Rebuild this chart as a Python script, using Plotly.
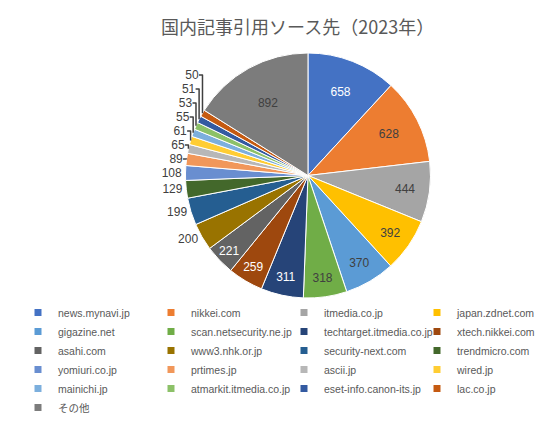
import plotly.graph_objects as go

# source sites and citation counts (2023)
sites = ["news.mynavi.jp", "nikkei.com", "itmedia.co.jp", "japan.zdnet.com",
         "gigazine.net", "scan.netsecurity.ne.jp", "techtarget.itmedia.co.jp", "xtech.nikkei.com",
         "asahi.com", "www3.nhk.or.jp", "security-next.com", "trendmicro.com",
         "yomiuri.co.jp", "prtimes.jp", "ascii.jp", "wired.jp",
         "mainichi.jp", "atmarkit.itmedia.co.jp", "eset-info.canon-its.jp", "lac.co.jp",
         "その他"]
counts = [658, 628, 444, 392, 370, 318, 311, 259, 221, 200, 199, 129,
          108, 89, 65, 61, 55, 53, 51, 50, 892]

# office palette
colors = ["#4472C4", "#ED7D31", "#A5A5A5", "#FFC000", "#5B9BD5", "#70AD47",
          "#264478", "#9E480E", "#636363", "#997300", "#255E91", "#43682B",
          "#698ED0", "#F1975A", "#B7B7B7", "#FFCD33", "#7CAFDD", "#8CC168",
          "#335AA1", "#C55A11", "#7C7C7C"]

dark_text = "#404040"
text_colors = ["white", dark_text, dark_text, dark_text, dark_text, dark_text,
               "white", "white", "white"] + [dark_text] * 11 + [dark_text]
positions = ["inside"] * 9 + ["outside"] * 11 + ["inside"]

fig = go.Figure(go.Pie(
    labels=sites, values=counts, sort=False, direction="clockwise", rotation=0,
    marker=dict(colors=colors, line=dict(color="white", width=1)),
    textinfo="value", textposition=positions,
    insidetextorientation="horizontal",
    textfont=dict(size=12, color=text_colors, family="Liberation Sans, sans-serif"),
    outsidetextfont=dict(size=12, color=dark_text),
    domain=dict(x=[0.19, 0.89], y=[0.0, 1.0]),
    showlegend=False,
))

# legend entries with small square swatches
for name, col in zip(sites, colors):
    fig.add_trace(go.Scatter(x=[None], y=[None], mode="markers", name=name,
                             marker=dict(symbol="square", size=7, color=col)))

fig.update_xaxes(visible=False)
fig.update_yaxes(visible=False)

fig.update_layout(
    width=557, height=440,
    paper_bgcolor="white", plot_bgcolor="white",
    margin=dict(l=10, r=0, t=45, b=150),
    title=dict(text="国内記事引用ソース先（2023年）", x=0.52, xanchor="center",
               y=0.955, yanchor="middle",
               font=dict(size=18, color="#595959", family="Noto Sans CJK JP")),
    font=dict(family="Liberation Sans, Noto Sans CJK JP", color="#595959"),
    legend=dict(orientation="h", x=0.0, xanchor="left", y=0.0, yanchor="top",
                entrywidth=88, traceorder="normal",
                font=dict(size=10.5, color="#595959", family="Liberation Sans, Noto Sans CJK JP"),
                itemwidth=30),
)

fig.write_html("out.html")
